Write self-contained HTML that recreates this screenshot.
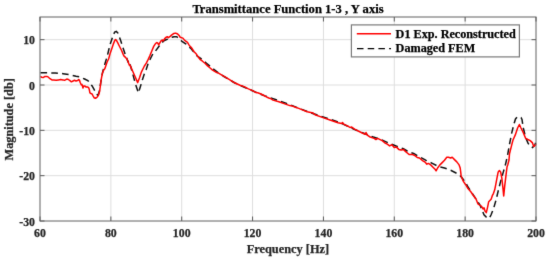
<!DOCTYPE html>
<html><head><meta charset="utf-8"><style>
html,body{margin:0;padding:0;background:#fff;}
svg{display:block;}
text{font-family:"Liberation Serif",serif;font-weight:bold;stroke-width:0.25px;}
</style></head><body>
<svg width="550" height="261" viewBox="0 0 550 261">
<defs><filter id="soft" x="0" y="0" width="100%" height="100%" color-interpolation-filters="sRGB"><feConvolveMatrix order="3" kernelMatrix="0.0081 0.0738 0.0081 0.0738 0.6724 0.0738 0.0081 0.0738 0.0081" divisor="1" edgeMode="duplicate"/></filter></defs>
<g filter="url(#soft)">
<rect x="0" y="0" width="550" height="261" fill="#fff"/>
<g stroke="#dedede" stroke-width="1" fill="none"><line x1="110.86" y1="17" x2="110.86" y2="221"/><line x1="181.71" y1="17" x2="181.71" y2="221"/><line x1="252.57" y1="17" x2="252.57" y2="221"/><line x1="323.43" y1="17" x2="323.43" y2="221"/><line x1="394.29" y1="17" x2="394.29" y2="221"/><line x1="465.14" y1="17" x2="465.14" y2="221"/><line x1="40" y1="175.67" x2="536" y2="175.67"/><line x1="40" y1="130.33" x2="536" y2="130.33"/><line x1="40" y1="85.00" x2="536" y2="85.00"/><line x1="40" y1="39.67" x2="536" y2="39.67"/></g>
<g stroke="#5a5a5a" stroke-width="1" fill="none"><line x1="40.00" y1="221" x2="40.00" y2="216.5"/><line x1="40.00" y1="17" x2="40.00" y2="21.5"/><line x1="110.86" y1="221" x2="110.86" y2="216.5"/><line x1="110.86" y1="17" x2="110.86" y2="21.5"/><line x1="181.71" y1="221" x2="181.71" y2="216.5"/><line x1="181.71" y1="17" x2="181.71" y2="21.5"/><line x1="252.57" y1="221" x2="252.57" y2="216.5"/><line x1="252.57" y1="17" x2="252.57" y2="21.5"/><line x1="323.43" y1="221" x2="323.43" y2="216.5"/><line x1="323.43" y1="17" x2="323.43" y2="21.5"/><line x1="394.29" y1="221" x2="394.29" y2="216.5"/><line x1="394.29" y1="17" x2="394.29" y2="21.5"/><line x1="465.14" y1="221" x2="465.14" y2="216.5"/><line x1="465.14" y1="17" x2="465.14" y2="21.5"/><line x1="536.00" y1="221" x2="536.00" y2="216.5"/><line x1="536.00" y1="17" x2="536.00" y2="21.5"/><line x1="40" y1="221.00" x2="44.5" y2="221.00"/><line x1="536" y1="221.00" x2="531.5" y2="221.00"/><line x1="40" y1="175.67" x2="44.5" y2="175.67"/><line x1="536" y1="175.67" x2="531.5" y2="175.67"/><line x1="40" y1="130.33" x2="44.5" y2="130.33"/><line x1="536" y1="130.33" x2="531.5" y2="130.33"/><line x1="40" y1="85.00" x2="44.5" y2="85.00"/><line x1="536" y1="85.00" x2="531.5" y2="85.00"/><line x1="40" y1="39.67" x2="44.5" y2="39.67"/><line x1="536" y1="39.67" x2="531.5" y2="39.67"/></g>
<polyline points="40.5,72.8 47.7,72.8 55.3,73.0 63.0,73.7 70.7,74.9 76.0,76.3 79.2,76.8 84.6,79.0 87.8,80.6 89.9,82.7 92.1,86.0 94.2,89.7 96.4,93.5 97.5,95.1 98.5,94.0 99.6,90.2 100.8,82.2 102.4,73.3 104.0,66.9 105.7,61.2 107.1,56.7 108.6,50.5 110.1,44.4 111.7,39.8 113.2,35.2 114.7,32.1 116.3,31.4 117.8,32.9 119.3,36.7 120.9,41.3 122.4,45.9 123.9,50.5 125.5,55.1 127.0,58.9 128.2,62.5 128.4,60.5 130.7,66.5 133.0,74.9 135.3,83.4 138.4,92.8 140.5,86.2 142.5,79.5 144.4,73.7 146.2,69.5 148.2,63.2 151.0,57.5 153.0,53.6 155.5,51.0 158.3,47.3 161.0,43.6 163.8,40.9 166.6,39.5 169.3,38.6 172.1,37.2 173.9,36.7 176.7,36.7 178.5,38.1 180.0,39.5 182.0,41.3 186.1,44.1 188.4,46.4 191.2,48.7 194.0,52.3 197.1,56.0 200.7,58.4 206.5,63.3 212.2,68.0 218.0,72.6 224.0,76.5 229.5,79.8 235.0,83.0 241.0,85.8 247.0,88.5 252.5,90.8 258.5,93.4 264.9,95.9 269.6,97.5 279.2,100.8 288.7,104.2 298.3,108.0 307.9,111.8 319.4,115.7 330.9,119.5 342.0,123.5 354.2,129.4 363.7,133.2 373.3,137.0 381.0,139.5 388.4,143.0 393.0,144.8 398.8,147.1 403.4,148.8 409.1,152.2 413.7,153.4 418.3,156.3 422.9,158.6 426.1,160.3 432.3,163.4 438.4,166.5 444.5,168.0 450.7,170.3 456.8,173.4 459.9,175.4 462.9,178.9 466.0,183.4 468.0,187.0 472.0,193.0 476.0,199.0 480.0,205.0 484.0,214.8 486.3,217.1 488.2,218.4 489.5,217.8 491.1,214.8 493.5,208.8 495.9,200.5 498.2,191.0 500.6,181.4 503.0,173.1 505.4,164.8 507.5,155.6 509.5,144.3 511.8,132.6 514.1,123.4 515.5,119.0 517.0,117.3 519.0,116.8 521.0,117.5 522.0,119.5 523.3,128.0 525.6,137.2 527.9,142.9 530.2,146.4 532.5,147.5 534.8,145.2 536.0,141.8" fill="none" stroke="#111" stroke-width="1.5" stroke-dasharray="6.6 4.2"/>
<polyline points="40.5,76.4 41.5,77.2 43.1,77.6 44.6,76.6 46.9,76.4 48.4,77.2 50.0,78.7 51.9,79.9 53.8,80.1 56.1,80.3 58.4,79.9 60.7,79.5 63.0,79.9 64.5,80.3 66.8,79.1 68.4,79.5 69.9,80.6 71.4,81.8 73.0,81.0 74.5,80.3 76.0,81.0 77.6,80.6 78.7,79.5 79.4,80.0 80.3,82.7 80.8,83.8 81.4,84.9 81.9,84.3 82.4,85.9 83.0,88.1 83.5,86.0 84.6,86.0 86.2,87.0 87.8,87.0 88.9,88.1 89.4,90.2 89.9,92.9 91.0,93.5 92.1,94.0 93.2,96.1 94.2,97.8 95.3,98.3 96.4,97.8 97.5,96.7 98.5,95.1 99.6,91.5 100.3,86.5 100.8,82.2 101.6,77.3 102.4,73.3 103.2,70.9 104.9,68.5 106.0,65.2 107.1,62.0 108.6,59.0 110.1,53.6 111.7,49.0 113.2,44.4 114.7,40.6 115.5,39.5 116.3,40.1 117.8,42.9 119.3,46.0 121.6,50.5 123.2,54.4 123.9,55.9 125.5,57.4 127.0,59.0 128.5,62.8 129.3,65.1 130.0,65.1 133.8,73.7 136.7,80.4 137.7,82.6 139.6,77.6 141.5,71.8 143.4,68.0 144.4,66.0 146.3,63.2 148.2,59.4 149.7,56.1 151.8,51.0 153.7,46.4 155.5,43.6 156.9,42.5 157.8,43.2 158.7,45.0 159.7,43.2 161.0,40.9 162.4,40.0 163.3,40.9 164.7,38.6 166.1,37.2 167.5,36.7 168.4,37.7 169.8,36.7 171.2,35.4 172.5,34.4 173.9,33.5 175.3,33.1 176.7,33.5 178.1,34.4 179.4,35.8 180.1,37.2 182.9,38.1 184.7,40.4 187.5,42.3 189.3,45.5 191.6,47.8 193.9,51.5 196.3,54.1 198.8,57.7 200.0,59.4 202.5,61.2 205.0,63.3 207.6,65.9 210.1,68.0 212.6,70.1 216.0,72.2 218.5,73.1 221.9,75.1 225.0,76.8 229.5,79.6 234.6,82.8 240.0,85.2 244.2,86.6 248.4,88.9 252.6,90.6 256.0,92.6 257.7,92.8 261.0,94.0 264.9,96.0 265.4,96.3 268.8,98.0 270.4,98.4 273.0,100.1 278.9,101.8 284.8,103.9 289.8,105.6 292.0,105.9 295.4,107.2 298.8,108.4 303.0,110.1 307.2,111.8 313.1,113.1 315.0,114.8 323.0,117.6 330.0,120.0 338.0,122.8 341.5,123.5 342.5,122.6 344.0,124.4 348.3,126.3 350.0,127.5 351.7,127.1 354.6,129.2 359.2,131.5 365.0,134.4 366.0,132.5 367.0,134.8 369.5,136.7 374.1,138.4 375.9,139.5 377.6,138.4 382.2,140.7 385.0,143.0 387.3,144.2 389.6,145.9 391.9,144.8 394.2,147.6 396.5,147.1 398.8,149.4 401.1,150.0 403.4,149.4 405.7,151.7 409.1,154.5 412.6,154.5 414.9,155.7 417.2,157.4 419.5,158.0 422.9,160.9 425.0,162.0 426.9,164.2 428.4,163.4 430.7,164.9 433.0,167.2 435.3,169.5 436.1,170.8 437.6,168.0 439.9,164.9 442.2,162.6 444.5,160.3 446.8,157.3 448.4,157.3 450.7,158.0 452.2,157.3 454.5,159.6 456.8,161.9 459.1,164.9 460.2,168.0 460.6,171.1 461.1,175.7 462.2,178.6 463.4,181.4 465.0,183.8 466.3,185.6 468.0,188.6 471.0,192.0 473.0,195.0 476.0,199.0 478.0,204.0 481.6,206.4 483.0,209.0 484.0,207.8 485.0,211.0 486.3,212.6 487.5,207.6 488.7,201.7 491.1,199.3 492.3,195.7 493.5,193.3 494.7,189.8 495.9,183.8 497.0,177.9 498.2,171.9 499.4,170.5 500.6,171.9 501.8,177.9 503.0,188.6 503.7,196.0 504.7,186.2 506.1,174.3 507.0,167.1 507.8,164.8 509.0,160.0 509.5,153.8 511.8,144.6 513.0,140.0 515.3,134.9 515.3,134.9 517.6,128.0 519.4,124.5 521.0,128.0 523.3,132.6 525.6,138.3 527.9,139.5 530.2,140.6 532.5,142.9 533.7,146.4 535.3,145.2 536.0,144.1" fill="none" stroke="#ff0000" stroke-width="1.5" stroke-linejoin="round"/>
<rect x="40" y="17" width="496" height="204" fill="none" stroke="#606060" stroke-width="1"/>
<g font-size="11.8" fill="#262626" stroke="#262626"><text x="40.00" y="237.4" text-anchor="middle">60</text><text x="110.86" y="237.4" text-anchor="middle">80</text><text x="181.71" y="237.4" text-anchor="middle">100</text><text x="252.57" y="237.4" text-anchor="middle">120</text><text x="323.43" y="237.4" text-anchor="middle">140</text><text x="394.29" y="237.4" text-anchor="middle">160</text><text x="465.14" y="237.4" text-anchor="middle">180</text><text x="536.00" y="237.4" text-anchor="middle">200</text><text x="35" y="225.50" text-anchor="end">-30</text><text x="35" y="180.17" text-anchor="end">-20</text><text x="35" y="134.83" text-anchor="end">-10</text><text x="35" y="89.50" text-anchor="end">0</text><text x="35" y="44.17" text-anchor="end">10</text></g>
<text x="288" y="12.7" text-anchor="middle" font-size="12.6" fill="#000" stroke="#000">Transmittance Function 1-3 , Y axis</text>
<text x="287.9" y="253" text-anchor="middle" font-size="12.35" fill="#262626" stroke="#262626">Frequency [Hz]</text>
<text transform="translate(12.9,119.3) rotate(-90)" text-anchor="middle" font-size="12.3" fill="#262626" stroke="#262626">Magnitude [db]</text>
<g>
<rect x="351.4" y="24.9" width="168" height="32" fill="#fff" stroke="#7a7a7a" stroke-width="1.2"/>
<line x1="356.8" y1="33.7" x2="391" y2="33.7" stroke="#ff0000" stroke-width="1.4"/>
<line x1="357" y1="48.6" x2="391" y2="48.6" stroke="#000" stroke-width="1.2" stroke-dasharray="6.5 4.2"/>
<text x="395.6" y="37.6" font-size="12.2" fill="#000" stroke="#000">D1 Exp. Reconstructed</text>
<text x="395.6" y="51.9" font-size="12.2" fill="#000" stroke="#000">Damaged FEM</text>
</g>
</g>
</svg>
</body></html>
